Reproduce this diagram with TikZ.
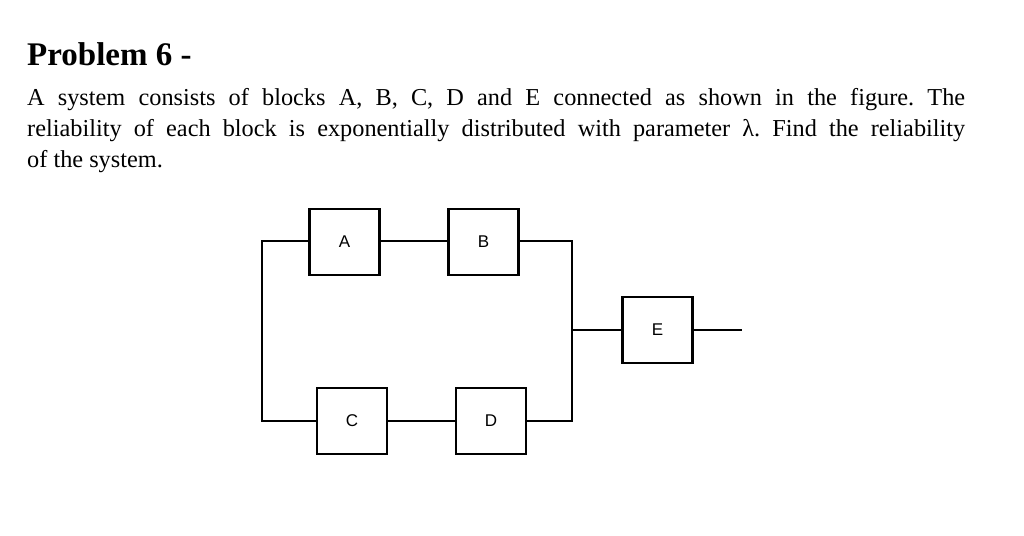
\documentclass[tikz,border=0pt]{standalone}
\usepackage{fontspec}
\setmainfont{Liberation Serif}
\newfontfamily\lblfont{Liberation Sans}
\begin{document}
\begin{tikzpicture}[x=1pt,y=-1pt,
  blk/.style={draw,line width=2.3pt,minimum width=70pt,minimum height=66pt,inner sep=0pt,font=\lblfont\fontsize{17}{20}\selectfont},
  wire/.style={line width=2.3pt}]
\useasboundingbox (0,0) rectangle (1024,535);
\node[anchor=base west,inner sep=0pt,font=\bfseries\fontsize{33}{36}\selectfont] (title) at (27,66) {Problem 6 -};
\node[anchor=north west,inner sep=0pt,text width=938pt,align=justify,font=\fontsize{24.3}{31}\selectfont] (txt) at (27,88)
 {\frenchspacing A system consists of blocks A, B, C, D and E connected as shown in the figure. The\linebreak
 reliability of each block is exponentially distributed with parameter \char"03BB. Find the reliability\linebreak
 of the system.\par};
\node[blk] (A) at (344.5,242) {A};
\node[blk] (B) at (483.5,242) {B};
\node[blk] (C) at (352,421) {C};
\node[blk] (D) at (491,421) {D};
\node[blk] (E) at (657.5,330) {E};
\coordinate (tl) at (262,241);
\coordinate (bl) at (262,421);
\coordinate (tr) at (572,241);
\coordinate (br) at (572,421);
\coordinate (mr) at (572,330);
\coordinate (out) at (742,330);
\draw[wire] (A.west |- tl) -- (tl) -- (bl) -- (C.west |- bl);
\draw[wire] (A.east |- tl) -- (B.west |- tl);
\draw[wire] (C.east |- bl) -- (D.west |- bl);
\draw[wire] (B.east |- tr) -- (tr) -- (br) -- (D.east |- br);
\draw[wire] (mr) -- (E.west);
\draw[wire] (E.east) -- (out);
\end{tikzpicture}
\end{document}
